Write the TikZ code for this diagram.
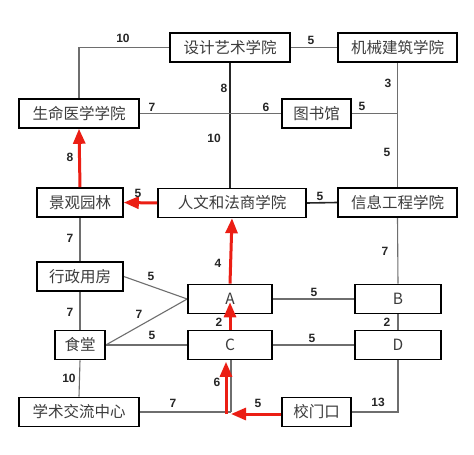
\documentclass[tikz,border=0pt]{standalone}
\usepackage{fontspec}
\newfontfamily\cjk{Noto Sans CJK SC}
\newfontfamily\numfont{Liberation Sans}
\usetikzlibrary{arrows.meta}
\definecolor{txtgray}{RGB}{60,60,60}
\definecolor{arrred}{RGB}{235,30,20}
\definecolor{linegray}{RGB}{110,110,110}
\tikzset{
  box/.style={draw=black, line width=1.6pt, fill=white, minimum height=29pt, inner sep=0pt,
    font=\cjk\fontsize{15.5}{16}\selectfont, text=txtgray},
  conn/.style={draw=linegray, line width=1.1pt},
  darkconn/.style={draw=black!85, line width=1.6pt},
  redarr/.style={draw=arrred, line width=3pt, -{Triangle[length=15pt,width=12pt]}},
  wlbl/.style={font=\numfont\bfseries\fontsize{12}{12}\selectfont, text=black!85, inner sep=0pt}
}
\begin{document}
\begin{tikzpicture}[x=1pt,y=-1pt]
\useasboundingbox[fill=white] (0,0) rectangle (474,455);
\coordinate (j) at (231,412);
\coordinate (jr) at (226,414);
% nodes (placed first to define anchors)
\path
 node[box, minimum width=120pt] (sheji) at (230,47.5) {设计艺术学院}
 node[box, minimum width=119pt] (jixie) at (397.5,47.5) {机械建筑学院}
 node[box, minimum width=120pt] (shengming) at (79,113.5) {生命医学学院}
 node[box, minimum width=69pt] (tushu) at (316.5,113.5) {图书馆}
 node[box, minimum width=86pt] (jingguan) at (80,202.5) {景观园林}
 node[box, minimum width=148pt] (renwen) at (232,203) {人文和法商学院}
 node[box, minimum width=119pt] (xinxi) at (397.5,202.5) {信息工程学院}
 node[box, minimum width=86pt] (xingzheng) at (80,276.5) {行政用房}
 node[box, minimum width=84pt] (A) at (230,299) {A}
 node[box, minimum width=86pt] (B) at (398,299) {B}
 node[box, minimum width=50pt] (shitang) at (80,345) {食堂}
 node[box, minimum width=84pt] (C) at (230,345) {C}
 node[box, minimum width=86pt] (D) at (398,345) {D}
 node[box, minimum width=120pt] (xueshu) at (79,412) {学术交流中心}
 node[box, minimum width=69pt] (xiaomen) at (316.5,412) {校门口};
% lines
\draw[conn] (sheji.west) -| (shengming.north);
\draw[conn] (sheji.east) -- (jixie.west);
\draw[darkconn] (sheji.south) -- (sheji.south |- renwen.north);
\draw[conn] (shengming.east) -- (tushu.west);
\draw[conn] (tushu.east) -- (tushu.east -| jixie.south);
\draw[conn] (jixie.south) -- (xinxi.north);
\draw[darkconn] (renwen.east) -- (xinxi.west);
\draw[conn] (jingguan.south) -- (xingzheng.north);
\draw[conn] (xingzheng.south) -- (shitang.north);
\draw[conn] (shitang.south) -- (xueshu.north);
\draw[conn] (xingzheng.east) -- (A.west);
\draw[conn] (shitang.east) -- (A.west);
\draw[conn] (shitang.east) -- (C.west);
\draw[conn] (A.east) -- (B.west);
\draw[conn] (C.east) -- (D.west);
\draw[conn] (xinxi.south) -- (B.north);
\draw[conn] (B.south) -- (D.north);
\draw[conn] (D.south) |- (xiaomen.east);
\draw[conn] (xueshu.east) -- (j);
\draw[conn] (j) -- (C.south -| j);
% redraw boxes on top of the lines
\path
 node[box, minimum width=120pt] at (sheji) {设计艺术学院}
 node[box, minimum width=119pt] at (jixie) {机械建筑学院}
 node[box, minimum width=120pt] at (shengming) {生命医学学院}
 node[box, minimum width=69pt] at (tushu) {图书馆}
 node[box, minimum width=86pt] at (jingguan) {景观园林}
 node[box, minimum width=148pt] at (renwen) {人文和法商学院}
 node[box, minimum width=119pt] at (xinxi) {信息工程学院}
 node[box, minimum width=86pt] at (xingzheng) {行政用房}
 node[box, minimum width=84pt] at (A) {A}
 node[box, minimum width=86pt] at (B) {B}
 node[box, minimum width=50pt] at (shitang) {食堂}
 node[box, minimum width=84pt] at (C) {C}
 node[box, minimum width=86pt] at (D) {D}
 node[box, minimum width=120pt] at (xueshu) {学术交流中心}
 node[box, minimum width=69pt] at (xiaomen) {校门口};
% red arrows
\draw[redarr] (renwen.west) -- (jingguan.east);
\draw[redarr] (jingguan.north) -- (shengming.south);
\draw[redarr] (xiaomen.west |- jr) -- (j |- jr);
\draw[redarr, shorten >=1.5pt] (jr) -- (C.south -| jr);
\draw[redarr] (C.north) -- ([yshift=12pt]A.south);
\draw[redarr] (A.north) -- (renwen.south);
% labels
\node[wlbl] (l1) at (123,38) {10};
\node[wlbl] (l2) at (311,40) {5};
\node[wlbl] (l3) at (224,88) {8};
\node[wlbl] (l4) at (152,107) {7};
\node[wlbl] (l5) at (214,138) {10};
\node[wlbl] (l6) at (266,107) {6};
\node[wlbl] (l7) at (362,106) {5};
\node[wlbl] (l8) at (388,83) {3};
\node[wlbl] (l9) at (387,152) {5};
\node[wlbl] (l10) at (70,157) {8};
\node[wlbl] (l11) at (138,193) {5};
\node[wlbl] (l12) at (320,196) {5};
\node[wlbl] (l13) at (70,238) {7};
\node[wlbl] (l14) at (385,251) {7};
\node[wlbl] (l15) at (151,276) {5};
\node[wlbl] (l16) at (218,263) {4};
\node[wlbl] (l17) at (314,292) {5};
\node[wlbl] (l18) at (70,312) {7};
\node[wlbl] (l19) at (139,314) {7};
\node[wlbl] (l20) at (219,322) {2};
\node[wlbl] (l21) at (387,322) {2};
\node[wlbl] (l22) at (152,335) {5};
\node[wlbl] (l23) at (312,338) {5};
\node[wlbl] (l24) at (69,378) {10};
\node[wlbl] (l25) at (217,382) {6};
\node[wlbl] (l26) at (173,403) {7};
\node[wlbl] (l27) at (258,403) {5};
\node[wlbl] (l28) at (378,402) {13};
\end{tikzpicture}
\end{document}
